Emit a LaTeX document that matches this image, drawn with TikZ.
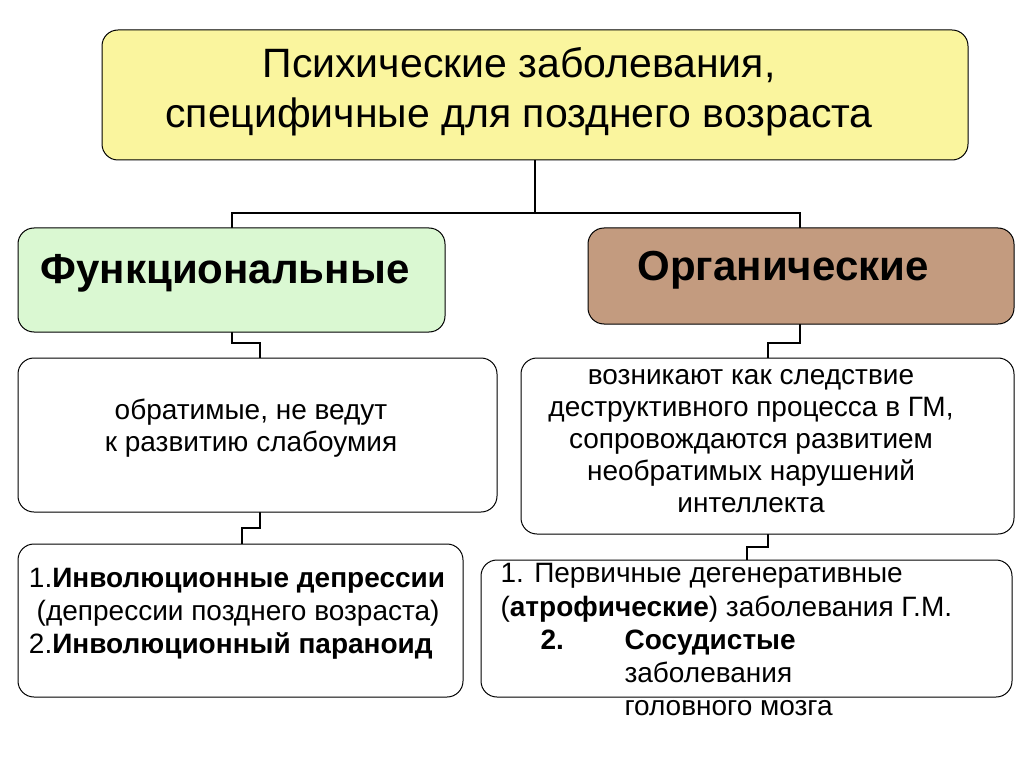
\documentclass[tikz,border=0pt]{standalone}
\usepackage{fontspec}
\setmainfont{Liberation Sans}
\begin{document}
\begin{tikzpicture}[x=1pt,y=-1pt,
 bx/.style={draw=black,line width=1pt,rounded corners=16pt},
 ln/.style={line width=2.5pt}]
\useasboundingbox (0,0) rectangle (1024,767);
\definecolor{yel}{HTML}{FAF59E}\definecolor{grn}{HTML}{DAF8D2}\definecolor{brn}{HTML}{C39B7F}
\draw[ln] (535,160)--(535,213) (232,228)--(232,213)--(800,213)--(800,228);
\draw[ln] (232,332)--(232,343)--(260,343)--(260,358);
\draw[ln] (800,324)--(800,343)--(768,343)--(768,358);
\draw[ln] (260,512)--(260,528)--(242,528)--(242,544);
\draw[ln] (768,534)--(768,547)--(747,547)--(747,560);
\node[bx,fill=yel,minimum width=866pt,minimum height=130pt] (t) at (535,95) {};
\node[align=center,font=\fontsize{41}{50}\selectfont] at (519,92) {Психические заболевания,\\специфичные для позднего возраста};
\node[bx,fill=grn,minimum width=427pt,minimum height=104pt] (f) at (231.5,280) {};
\node[font=\bfseries\fontsize{42}{50}\selectfont] at (225,273) {Функциональные};
\node[bx,fill=brn,minimum width=426pt,minimum height=96pt] (o) at (801,276) {};
\node[font=\bfseries\fontsize{42}{50}\selectfont] at (783,270) {Органические};
\node[bx,fill=white,minimum width=479pt,minimum height=154pt] (b3) at (257.5,435) {};
\node[align=center,font=\fontsize{28}{32}\selectfont] at (251,428) {обратимые, не ведут\\к развитию слабоумия};
\node[bx,fill=white,minimum width=493pt,minimum height=176pt] (b4) at (767.5,446) {};
\node[align=center,font=\fontsize{28}{32}\selectfont] at (751,441) {возникают как следствие\\деструктивного процесса в ГМ,\\сопровождаются развитием\\необратимых нарушений\\интеллекта};
\node[bx,fill=white,minimum width=445pt,minimum height=153pt] (b5) at (240.5,620.5) {};
\node[align=left,font=\fontsize{28}{33}\selectfont] at (237,614) {1.\textbf{Инволюционные депрессии}\\\ (депрессии позднего возраста)\\2.\textbf{Инволюционный параноид}};
\node[bx,fill=white,minimum width=531pt,minimum height=137pt] (b6) at (746.5,628.5) {};
\node[anchor=north west,align=left,font=\fontsize{28}{34}\selectfont] at (497,560) {1. Первичные дегенеративные\\(\textbf{атрофические}) заболевания Г.М.};
\node[anchor=north west,font=\bfseries\fontsize{28}{33}\selectfont] at (537,626) {2.};
\node[anchor=north west,align=left,font=\fontsize{28}{33}\selectfont] at (621,626) {\textbf{Сосудистые}\\заболевания\\головного мозга};
\end{tikzpicture}
\end{document}
